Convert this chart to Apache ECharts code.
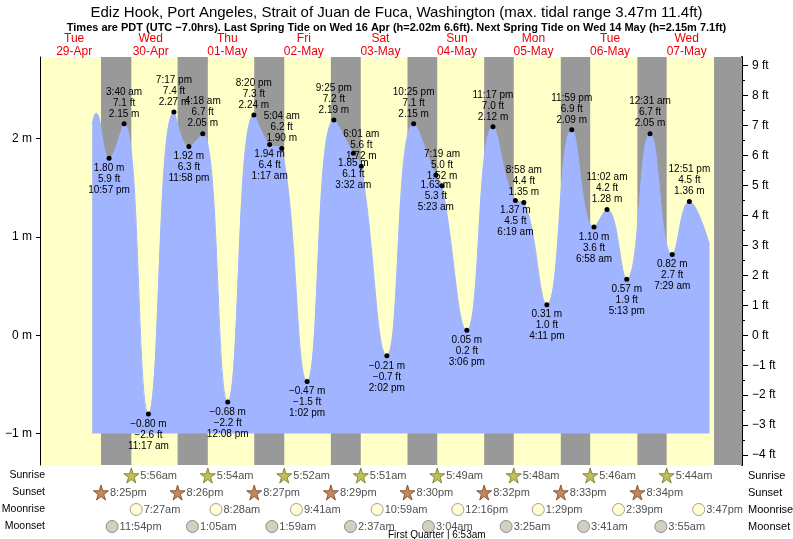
<!DOCTYPE html>
<html><head><meta charset="utf-8">
<script src="https://cdn.jsdelivr.net/npm/echarts@6/dist/echarts.min.js"></script>
<style>html,body{margin:0;padding:0;background:#fff}#main{width:793px;height:539px}</style>
</head><body><div id="main"></div>
<script>
// tide extremes (PDT) and heights in metres
const extremeTimes = ['2025-04-29 22:57','2025-04-30 03:40','2025-04-30 11:17','2025-04-30 19:17','2025-04-30 23:58',
  '2025-05-01 04:18','2025-05-01 12:08','2025-05-01 20:20','2025-05-02 01:17','2025-05-02 05:04','2025-05-02 13:02',
  '2025-05-02 21:25','2025-05-03 03:32','2025-05-03 06:01','2025-05-03 14:02','2025-05-03 22:25','2025-05-04 05:23',
  '2025-05-04 07:19','2025-05-04 15:06','2025-05-04 23:17','2025-05-05 06:19','2025-05-05 08:58','2025-05-05 16:11',
  '2025-05-05 23:59','2025-05-06 06:58','2025-05-06 11:02','2025-05-06 17:13','2025-05-07 00:31','2025-05-07 07:29',
  '2025-05-07 12:51'];
const extremeHeights = [1.80,2.15,-0.80,2.27,1.92,2.05,-0.68,2.24,1.94,1.90,-0.47,2.19,1.85,1.72,-0.21,2.15,1.63,
  1.52,0.05,2.12,1.37,1.35,0.31,2.09,1.10,1.28,0.57,2.05,0.82,1.36];
const extremeIsHigh = [0,1,0,1,0,1,0,1,0,1,0,1,0,1,0,1,0,1,0,1,0,1,0,1,0,1,0,1,0,1];
const curveStart = [['2025-04-29 17:40',2.15],['2025-04-29 18:50',2.26]];
const curveEnd = [['2025-05-07 19:10',0.92]];

const days = ['2025-04-29','2025-04-30','2025-05-01','2025-05-02','2025-05-03','2025-05-04','2025-05-05','2025-05-06','2025-05-07'];
const dayNames = ['Tue','Wed','Thu','Fri','Sat','Sun','Mon','Tue','Wed'];
const dayLabels = ['29-Apr','30-Apr','01-May','02-May','03-May','04-May','05-May','06-May','07-May'];
const sunsets = ['2025-04-29 20:25','2025-04-30 20:26','2025-05-01 20:27','2025-05-02 20:29','2025-05-03 20:30',
  '2025-05-04 20:32','2025-05-05 20:33','2025-05-06 20:34','2025-05-07 20:35'];
const sunrises = ['2025-04-30 05:56','2025-05-01 05:54','2025-05-02 05:52','2025-05-03 05:51','2025-05-04 05:49',
  '2025-05-05 05:48','2025-05-06 05:46','2025-05-07 05:44'];
const moonrises = ['2025-04-30 07:27','2025-05-01 08:28','2025-05-02 09:41','2025-05-03 10:59','2025-05-04 12:16',
  '2025-05-05 13:29','2025-05-06 14:39','2025-05-07 15:47'];
const moonsets = ['2025-04-29 23:54','2025-05-01 01:05','2025-05-02 01:59','2025-05-03 02:37','2025-05-04 03:04',
  '2025-05-05 03:25','2025-05-06 03:41','2025-05-07 03:55'];
const mTicks = [-1,0,1,2];
const ftTicks = [-4,-3,-2,-1,0,1,2,3,4,5,6,7,8,9];
const ftMinor = [-4.5,-3.5,-2.5,-1.5,-0.5,0.5,1.5,2.5,3.5,4.5,5.5,6.5,7.5,8.5];

const xMin = '2025-04-29 01:18', xMax = '2025-05-08 05:21';
const yMinM = -1.32, yMaxM = 2.83, FT = 3.28084;

function ts(s) { return echarts.time.parse(s).getTime(); }
function fmtTime(s) {
  const d = echarts.time.parse(s); let h = d.getHours(); const m = d.getMinutes();
  const ap = h >= 12 ? 'pm' : 'am'; h = h % 12; if (h === 0) h = 12;
  return h + ':' + (m < 10 ? '0' : '') + m + ' ' + ap;
}
function fmtShort(s) { return fmtTime(s).replace(' ', ''); }
function neg(v, d) { return (v < 0 ? '\u2212' : '') + Math.abs(v).toFixed(d); }

const tideData = curveStart.map(p => ({ value: [ts(p[0]), p[1]], symbolSize: 0, label: { show: false } }));
extremeTimes.forEach(function (t, i) {
  const h = extremeHeights[i], ft = neg(h * FT, 1), m = neg(h, 2);
  tideData.push({
    value: [ts(t), h],
    label: extremeIsHigh[i]
      ? { show: true, position: 'top', formatter: fmtTime(t) + '\n' + ft + ' ft\n' + m + ' m' }
      : { show: true, position: 'bottom', formatter: m + ' m\n' + ft + ' ft\n' + fmtTime(t) }
  });
});
curveEnd.forEach(p => tideData.push({ value: [ts(p[0]), p[1]], symbolSize: 0, label: { show: false } }));

const nights = [[{ xAxis: ts(sunsets[8]) }, { xAxis: ts(xMax) }]];
sunrises.forEach((r, i) => nights.push([{ xAxis: ts(sunsets[i]) }, { xAxis: ts(r) }]));

const starPath = 'path://M50,0 L61,35 L98,35 L68,57 L79,91 L50,70 L21,91 L32,57 L2,35 L39,35 Z';
function rowSeries(times, row, symbol, color, border) {
  return {
    type: 'scatter', xAxisIndex: 2, yAxisIndex: 2, symbol: symbol, symbolSize: symbol === 'circle' ? 12 : 15,
    itemStyle: { color: color, borderColor: border, borderWidth: 1 },
    label: { show: true, position: 'right', distance: 1, fontSize: 11, color: '#222', formatter: p => fmtShort(times[p.dataIndex]) },
    data: times.map(t => [ts(t), row]), silent: true
  };
}

const font = 'Liberation Sans, Arial, sans-serif';
const option = {
  animation: false,
  textStyle: { fontFamily: font },
  title: [
    { text: 'Ediz Hook, Port Angeles, Strait of Juan de Fuca, Washington (max. tidal range 3.47m 11.4ft)', left: 'center', top: 0,
      textStyle: { fontSize: 15, fontWeight: 'normal', color: '#000', fontFamily: font } },
    { text: 'Times are PDT (UTC \u22127.0hrs). Last Spring Tide on Wed 16 Apr (h=2.02m 6.6ft). Next Spring Tide on Wed 14 May (h=2.15m 7.1ft)',
      left: 'center', top: 17, textStyle: { fontSize: 11, fontWeight: 'bold', color: '#000', fontFamily: font } },
    { text: 'First Quarter | 6:53am', left: 383, top: 525, textStyle: { fontSize: 10, fontWeight: 'normal', color: '#000', fontFamily: font } }
  ],
  grid: [
    { left: 40, right: 51, top: 57, bottom: 74, backgroundColor: '#ffffc8', show: true, borderWidth: 0, outerBoundsMode: 'none' },
    { left: 40, right: 51, top: 467, height: 68, show: false, outerBoundsMode: 'none' }
  ],
  xAxis: [
    { type: 'value', gridIndex: 0, min: ts(xMin), max: ts(xMax), axisLine: { show: false }, axisTick: { show: false },
      axisLabel: { show: false }, splitLine: { show: false } },
    { type: 'value', gridIndex: 0, position: 'top', min: ts(xMin), max: ts(xMax), axisLine: { show: false }, axisTick: { show: false },
      splitLine: { show: false },
      axisLabel: { color: '#ee0000', fontSize: 12, lineHeight: 13, margin: -1, hideOverlap: false, showMinLabel: true, showMaxLabel: true,
        customValues: days.map(d => ts(d + ' 12:00')),
        formatter: function (v) { const i = days.findIndex(d => ts(d + ' 12:00') === v); return i < 0 ? '' : dayNames[i] + '\n' + dayLabels[i]; } } },
    { type: 'value', gridIndex: 1, min: ts(xMin), max: ts(xMax), show: false }
  ],
  yAxis: [
    { type: 'value', gridIndex: 0, min: yMinM, max: yMaxM, splitLine: { show: false },
      axisLine: { show: true, lineStyle: { color: '#000' } }, axisTick: { customValues: mTicks, length: 4, lineStyle: { color: '#000' } },
      axisLabel: { customValues: mTicks, color: '#000', fontSize: 12, formatter: v => neg(v, 0) + ' m' } },
    { type: 'value', gridIndex: 0, position: 'right', min: yMinM * FT, max: yMaxM * FT, splitLine: { show: false },
      axisLine: { show: true, lineStyle: { color: '#000', width: 2 } }, axisTick: { customValues: ftTicks, length: 6, lineStyle: { color: '#000' } },
      axisLabel: { customValues: ftTicks, color: '#000', fontSize: 12, margin: 10, formatter: v => neg(v, 0) + ' ft' } },
    { type: 'category', gridIndex: 1, inverse: true, data: ['Sunrise', 'Sunset', 'Moonrise', 'Moonset'],
      axisLine: { show: false }, axisTick: { show: false }, axisLabel: { color: '#000', fontSize: 10.5, margin: -5 } },
    { type: 'category', gridIndex: 1, inverse: true, position: 'right', data: ['Sunrise', 'Sunset', 'Moonrise', 'Moonset'],
      axisLine: { show: false }, axisTick: { show: false }, axisLabel: { color: '#000', fontSize: 11, margin: 6 } },
    { type: 'value', gridIndex: 0, position: 'right', min: yMinM * FT, max: yMaxM * FT, splitLine: { show: false },
      axisLine: { show: false }, axisLabel: { show: false },
      axisTick: { customValues: ftMinor, length: 3, lineStyle: { color: '#000' } } }
  ],
  series: [
    { type: 'line', xAxisIndex: 0, yAxisIndex: 0, smooth: 0.45, symbol: 'circle', symbolSize: 5, silent: true,
      itemStyle: { color: '#000' }, lineStyle: { color: '#a0b4ff', width: 1 },
      areaStyle: { color: '#a0b4ff', opacity: 1, origin: -1 },
      label: { fontSize: 10, color: '#000', lineHeight: 11, distance: 2 },
      markArea: { silent: true, itemStyle: { color: '#999999' }, data: nights },
      data: tideData, z: 3 },
    rowSeries(sunrises, 'Sunrise', starPath, '#b0b030', '#707020'),
    rowSeries(sunsets.slice(0, 8), 'Sunset', starPath, '#b86a30', '#704020'),
    rowSeries(moonrises, 'Moonrise', 'circle', '#ffffc8', '#888'),
    rowSeries(moonsets, 'Moonset', 'circle', '#c8c4b0', '#777')
  ]
};
const chart = echarts.init(document.getElementById('main'));
chart.setOption(option);
</script></body></html>
